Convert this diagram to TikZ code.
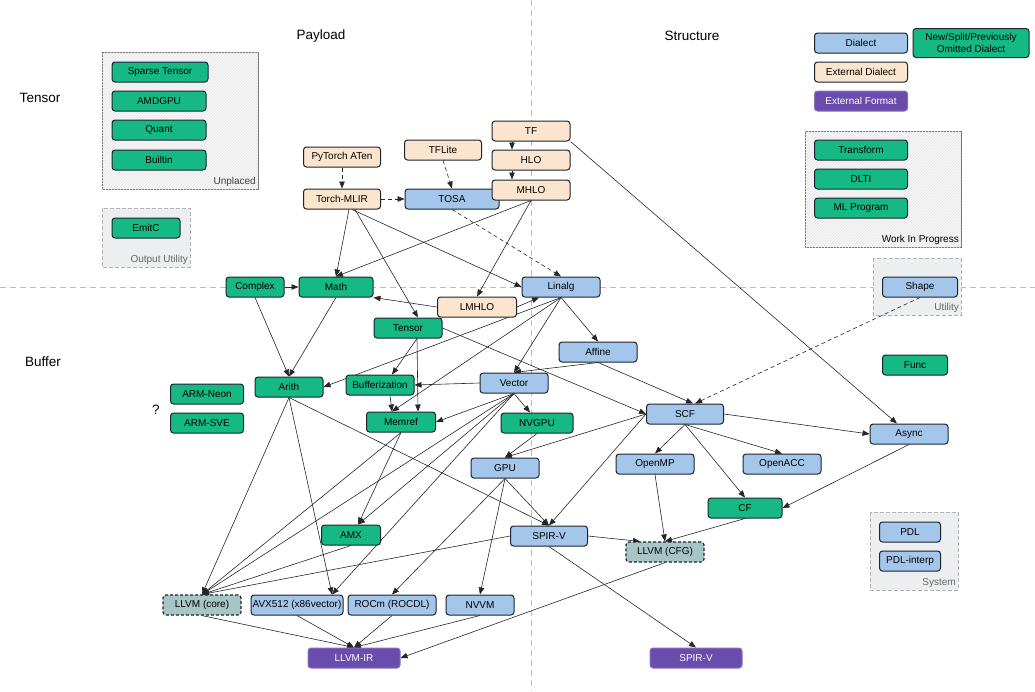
\documentclass[tikz,border=0pt]{standalone}
\usepackage{fontspec}
\setmainfont{Liberation Sans}
\usetikzlibrary{arrows.meta}
\usetikzlibrary{patterns}
\definecolor{dialect-blue}{RGB}{164,198,234}
\definecolor{external-peach}{RGB}{252,229,206}
\definecolor{new-green}{RGB}{22,185,131}
\definecolor{format-purple}{RGB}{106,76,172}
\definecolor{llvm-grey}{RGB}{168,197,197}
\definecolor{edge-dark}{RGB}{28,36,48}
\definecolor{group-grey}{RGB}{236,238,240}
\definecolor{split-grey}{RGB}{188,188,188}
\pgfdeclarelayer{back}
\pgfdeclarelayer{edges}
\pgfsetlayers{back,edges,main}

\begin{document}
\begin{tikzpicture}[x=1pt, y=-1pt,
    box/.style={draw=edge-dark, line width=1pt, rounded corners=3pt, minimum width=78, minimum height=20, inner sep=1pt, font=\fontsize{10}{11.5}\selectfont},
    dialect/.style={box, fill=dialect-blue},
    external/.style={box, fill=external-peach},
    newdialect/.style={box, fill=new-green},
    extformat/.style={box, fill=format-purple, draw=format-purple!80!white, text=white},
    llvmpart/.style={box, fill=llvm-grey, dash pattern=on 3pt off 2pt, line width=1.2pt},
    edge/.style={-{Triangle[length=7pt,width=5.5pt]}, line width=0.6pt, black!85},
    dashededge/.style={edge, dash pattern=on 4pt off 3pt},
    hatchgroup/.style={draw=black!55, line width=0.7pt, fill=black!3, postaction={pattern=north east lines, pattern color=black!10}},
    utilgroup/.style={draw=black!30, line width=0.8pt, dash pattern=on 4pt off 2pt, fill=group-grey},
    grouplabel/.style={anchor=south east, inner sep=1pt, font=\fontsize{10}{11.5}\selectfont},
    heading/.style={font=\fontsize{13.5}{15}\selectfont}]
    \useasboundingbox (0,0) rectangle (1035,691);

    % headings
    \node[heading] (payload) at (321,36) {Payload};
    \node[heading] (structure) at (692,36) {Structure};
    \node[heading] (tensorrow) at (40,98) {Tensor};
    \node[heading] (bufferrow) at (43,362) {Buffer};
    \node[heading] (unknown) at (156,410) {?};

    % legend
    \node[dialect, minimum width=93] (legdialect) at (861,43) {Dialect};
    \node[newdialect, minimum width=116, minimum height=29, align=center] (legnew) at (971,43) {New/Split/Previously\\Omitted Dialect};
    \node[external, minimum width=93] (legexternal) at (861,72) {External Dialect};
    \node[extformat, minimum width=93] (legformat) at (861,101) {External Format};

    % unplaced, wip, utility and system
    \node[newdialect, minimum width=96] (sparse) at (160,72) {Sparse Tensor};
    \node[newdialect, minimum width=94] (amdgpu) at (159,101) {AMDGPU};
    \node[newdialect, minimum width=94] (quant) at (159,130) {Quant};
    \node[newdialect, minimum width=94] (builtin) at (159,160) {Builtin};
    \node[newdialect, minimum width=68] (emitc) at (146,228) {EmitC};
    \node[newdialect, minimum width=93] (transform) at (861,150) {Transform};
    \node[newdialect, minimum width=93] (dlti) at (861,179) {DLTI};
    \node[newdialect, minimum width=93] (mlprogram) at (861,208) {ML Program};
    \node[newdialect, minimum width=73] (armneon) at (207,394) {ARM-Neon};
    \node[newdialect, minimum width=73] (armsve) at (207,423) {ARM-SVE};
    \node[newdialect, minimum width=65] (func) at (915,365) {Func};
    \node[dialect, minimum width=75] (shape) at (920,287) {Shape};
    \node[dialect, minimum width=61] (pdl) at (910,532) {PDL};
    \node[dialect, minimum width=61] (pdlinterp) at (910,561) {PDL-interp};

    % frontends
    \node[external, minimum width=77] (pytorch) at (342,157) {PyTorch ATen};
    \node[external, minimum width=77] (torchmlir) at (342,199) {Torch-MLIR};
    \node[external, minimum width=77] (tflite) at (443,150) {TFLite};
    \node[dialect, minimum width=94] (tosa) at (452,199) {TOSA};
    \node[external] (tf) at (531,131) {TF};
    \node[external] (hlo) at (531,160) {HLO};
    \node[external] (mhlo) at (531,190) {MHLO};

    % middle
    \node[newdialect, minimum width=58] (complex) at (255,287) {Complex};
    \node[newdialect, minimum width=74] (math) at (336,287) {Math};
    \node[dialect] (linalg) at (561,287) {Linalg};
    \node[external, minimum width=79] (lmhlo) at (477,307) {LMHLO};
    \node[newdialect, minimum width=68] (tensor) at (408,328) {Tensor};
    \node[dialect] (affine) at (598,352) {Affine};
    \node[newdialect, minimum width=68] (arith) at (289,387) {Arith};
    \node[newdialect, minimum width=68] (bufferization) at (380,385) {Bufferization};
    \node[dialect, minimum width=68] (vector) at (514,383) {Vector};
    \node[newdialect, minimum width=69] (memref) at (401,422) {Memref};
    \node[newdialect, minimum width=72] (nvgpu) at (537,423) {NVGPU};
    \node[dialect, minimum width=77] (scf) at (685,414) {SCF};
    \node[dialect] (async) at (909,434) {Async};
    \node[dialect, minimum width=68] (gpu) at (505,468) {GPU};
    \node[dialect] (openmp) at (655,464) {OpenMP};
    \node[dialect] (openacc) at (782,464) {OpenACC};
    \node[newdialect, minimum width=74] (cf) at (745,508) {CF};
    \node[newdialect, minimum width=59] (amx) at (351,535) {AMX};
    \node[dialect, minimum width=77] (spirv) at (549,536) {SPIR-V};
    \node[llvmpart] (llvmcfg) at (665,552) {LLVM (CFG)};

    % lowest level
    \node[llvmpart] (llvmcore) at (202,605) {LLVM (core)};
    \node[dialect, minimum width=92, inner sep=0pt] (avx) at (297,605) {AVX512 (x86vector)};
    \node[dialect, minimum width=88] (rocm) at (392,605) {ROCm (ROCDL)};
    \node[dialect, minimum width=68] (nvvm) at (480,605) {NVVM};
    \node[extformat, minimum width=92] (llvmir) at (354,658) {LLVM-IR};
    \node[extformat, minimum width=92] (spirvformat) at (696,658) {SPIR-V};

    \begin{pgfonlayer}{back}
        \draw[split-grey, line width=1pt, dash pattern=on 6pt off 4pt] (0,287) -- (1035,287);
        \draw[split-grey, line width=1pt, dash pattern=on 6pt off 4pt] (531,0) -- (531,691);
        \draw[hatchgroup] (102,52) rectangle (258,189);
        \node[grouplabel, text=black!75] (unplaced) at (257,188) {Unplaced};
        \draw[hatchgroup] (805,131) rectangle (961,247);
        \node[grouplabel] (wip) at (960,246) {Work In Progress};
        \draw[utilgroup] (102,208) rectangle (190,267);
        \node[grouplabel, text=black!60] (outpututil) at (189,266) {Output Utility};
        \draw[utilgroup] (873,258) rectangle (961,315);
        \node[grouplabel, text=black!60] (utility) at (960,314) {Utility};
        \draw[utilgroup] (870,512) rectangle (958,590);
        \node[grouplabel, text=black!60] (system) at (957,589) {System};
    \end{pgfonlayer}

    \begin{pgfonlayer}{edges}
        % dashed imports
        \draw[dashededge] (pytorch) -- (torchmlir);
        \draw[dashededge] (tflite.south) -- (tosa.north);
        \draw[dashededge] (torchmlir) -- (tosa);
        \draw[dashededge] (tosa.south) -- (linalg.north);
        \draw[dashededge] (shape.south) -- ([xshift=10pt]scf.north);
        % tensor level
        \draw[edge] ([xshift=-19pt]tf.south) -- ([xshift=-19pt]hlo.north);
        \draw[edge] ([xshift=-19pt]hlo.south) -- ([xshift=-19pt]mhlo.north);
        \draw[edge] (tf.south east) -- ([xshift=-12pt]async.north);
        \draw[edge] (mhlo.south) -- (math.north);
        \draw[edge] (mhlo.south) -- (lmhlo.north);
        \draw[edge] ([xshift=7pt]torchmlir.south) -- (math.north);
        \draw[edge] ([xshift=10pt]torchmlir.south) -- (linalg.west);
        \draw[edge] ([xshift=13pt]torchmlir.south) -- ([xshift=10pt]tensor.north);
        \draw[edge] (complex) -- (math);
        \draw[edge] (complex.south) -- (arith.north);
        \draw[edge] (math.south) -- (arith.north);
        \draw[edge] (lmhlo.west) -- (math.south east);
        \draw[edge] (lmhlo.east) -- ([xshift=-22pt]linalg.south);
        % linalg and friends
        \draw[edge] (linalg.south) -- (arith.east);
        \draw[edge] (linalg.south) -- ([xshift=-9pt]memref.north);
        \draw[edge] (linalg.south) -- (vector.north);
        \draw[edge] (linalg.south) -- (affine.north);
        \draw[edge] (affine.south) -- (vector.north);
        \draw[edge] (affine.south) -- ([xshift=8pt]scf.north);
        \draw[edge] ([xshift=9pt]tensor.south) -- ([xshift=12pt]bufferization.north);
        \draw[edge] ([xshift=9pt]tensor.south) -- ([xshift=17pt]memref.north);
        \draw[edge] (tensor.east) -- (scf.west);
        \draw[edge] ([xshift=10pt]bufferization.south) -- ([xshift=-9pt]memref.north);
        % vector
        \draw[edge] (vector.west) -- (bufferization.east);
        \draw[edge] (vector.south) -- (memref.east);
        \draw[edge] (vector.south) -- ([xshift=-7pt]nvgpu.north);
        \draw[edge] (vector.south) -- ([xshift=7pt]amx.north);
        \draw[edge] (vector.south) -- ([xshift=35pt]avx.north);
        \draw[edge] (vector.south) -- (llvmcore.north);
        % memref and arith
        \draw[edge] (memref.south) -- ([xshift=7pt]amx.north);
        \draw[edge] (memref.south) -- (llvmcore.north);
        \draw[edge] (arith.south) -- (llvmcore.north);
        \draw[edge] (arith.south) -- ([xshift=35pt]avx.north);
        \draw[edge] (arith.south) -- (spirv.north);
        \draw[edge] (amx.south) -- (llvmcore.north);
        % scf and gpu
        \draw[edge] (nvgpu.south) -- (gpu.north);
        \draw[edge] (scf.west) -- (gpu.north);
        \draw[edge] (scf.west) -- (spirv.north);
        \draw[edge] (scf.south) -- (openmp.north);
        \draw[edge] (scf.south) -- (openacc.north);
        \draw[edge] (scf.south) -- (cf.north);
        \draw[edge] (scf.east) -- (async.west);
        \draw[edge] (async.south) -- (cf.east);
        \draw[edge] (gpu.south) -- (spirv.north);
        \draw[edge] (gpu.south) -- (rocm.north);
        \draw[edge] (gpu.south) -- (nvvm.north);
        \draw[edge] (openmp.south) -- (llvmcfg.north);
        \draw[edge] (cf.south) -- (llvmcfg.north);
        \draw[edge] (spirv.east) -- ([xshift=-25pt]llvmcfg.north);
        \draw[edge] (spirv.west) -- (llvmcore.north);
        \draw[edge] (spirv.south) -- (spirvformat.north);
        % to llvm-ir
        \draw[edge] (llvmcore.south) -- (llvmir.north);
        \draw[edge] (avx.south) -- (llvmir.north);
        \draw[edge] (rocm.south) -- (llvmir.north);
        \draw[edge] (nvvm.south) -- (llvmir.north);
        \draw[edge] (llvmcfg.south) -- (llvmir.east);
    \end{pgfonlayer}
\end{tikzpicture}
\end{document}
